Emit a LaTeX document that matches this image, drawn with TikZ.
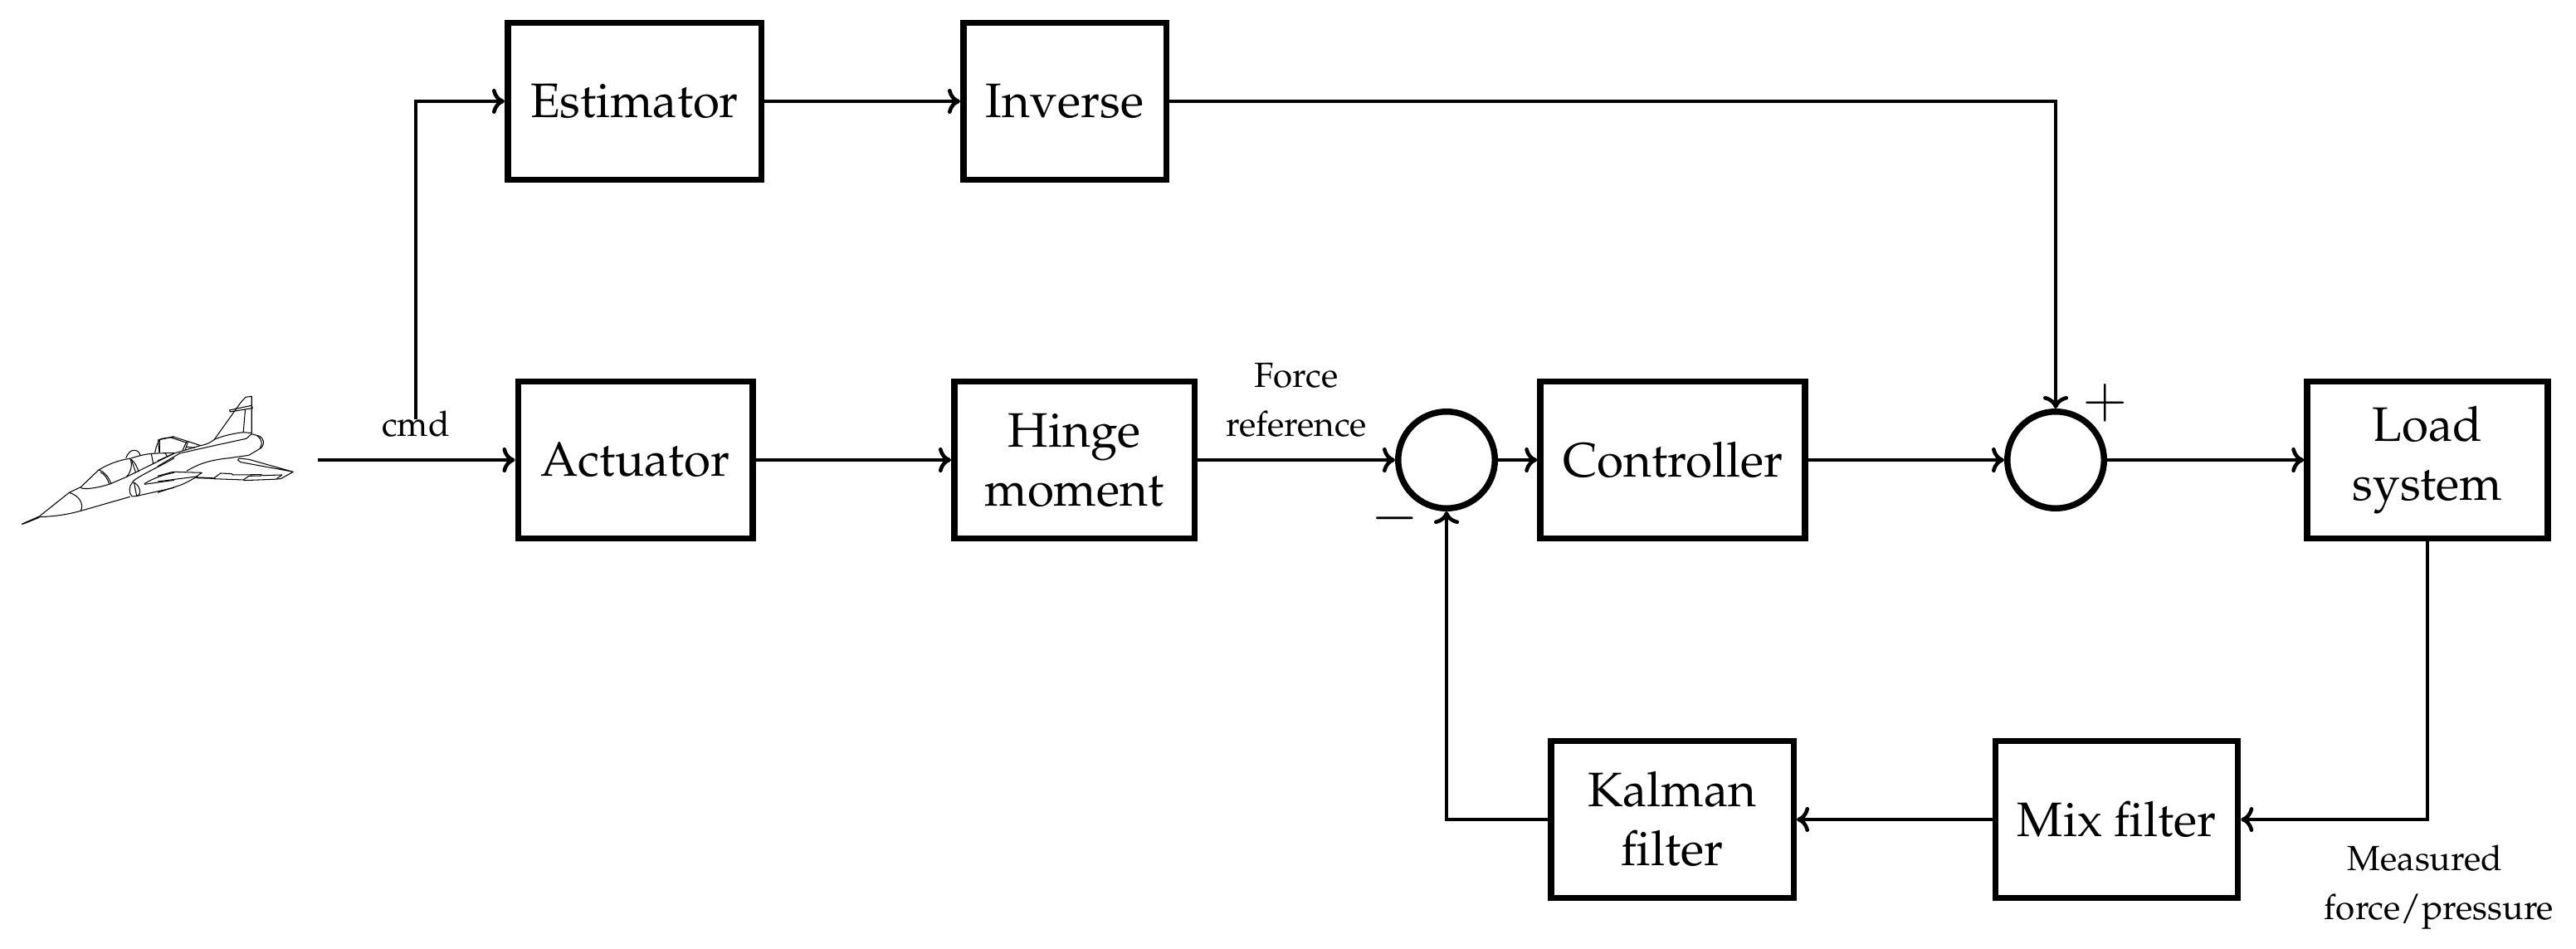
\documentclass[tikz,border=0pt]{standalone}
\usepackage[T1]{fontenc}
\usetikzlibrary{arrows.meta}
\renewcommand{\rmdefault}{ppl}
\begin{document}
\begin{tikzpicture}
		\tikzstyle{block}=[draw,
			line width=2.13pt,
			inner sep=0pt,
			minimum height=1.89cm,
			align=center,
			font=\fontsize{16.6}{20.2}\selectfont,
			];
		\tikzstyle{summer}=[draw,
			circle,
			line width=2.13pt,
			inner sep=0pt,
			minimum size=1.165cm,
			];
		\tikzstyle{sig}=[align=center,
			inner sep=0pt,
			font=\fontsize{12}{16.8}\selectfont,
			];
		\tikzstyle{signum}=[inner sep=0pt,
			font=\fontsize{22}{24}\selectfont,
			];
		\tikzstyle{conn}=[-{Computer Modern Rightarrow[length=1.5mm,width=3mm]},line width=1.3pt];
		\tikzstyle{outline}=[line width=.3pt,line join=round];

		\useasboundingbox (0,0) rectangle (31.04,11.42);

		\node [block] (est) at (7.645,10.20) [minimum width=3.055cm] {Estimator};
		\node [block] (inv) at (12.83,10.20) [minimum width=2.445cm] {Inverse};

		\node [block] (act) at (7.655,5.88) [minimum width=2.825cm] {Actuator};
		\node [block] (hinge) at (12.945,5.88) [minimum width=2.895cm] {Hinge\\moment};
		\node [summer] (sumf) at (17.43,5.88) {};
		\node [block] (ctrl) at (20.155,5.88) [minimum width=3.19cm] {Controller};
		\node [summer] (sumc) at (24.77,5.88) {};
		\node [block] (load) at (29.25,5.88) [minimum width=2.90cm] {Load\\system};

		\node [block] (mix) at (25.505,1.55) [minimum width=2.92cm] {Mix filter};
		\node [block] (kal) at (20.15,1.55) [minimum width=2.925cm] {Kalman\\filter};

		\coordinate (src) at (3.83,5.88);
		\coordinate (tap) at (5.01,6.37);

		\node [sig] (cmd) at (5.01,6.31) {cmd};
		\node [sig] (fref) at (15.62,6.60) {Force\\reference};
		\node [sig] (meas) at (29.39,0.73) {Measured\hspace*{.34cm}\\force/pressure};
		\node [signum] (plus) at (25.37,6.57) {$+$};
		\node [signum] (minus) at (16.81,5.18) {$-$};

		\draw [conn] (src) -- (act);
		\draw [conn] (tap) |- (est);
		\draw [conn] (est) -- (inv);
		\draw [conn] (inv) -| (sumc);
		\draw [conn] (act) -- (hinge);
		\draw [conn] (hinge) -- (sumf);
		\draw [conn] (sumf) -- (ctrl);
		\draw [conn] (ctrl) -- (sumc);
		\draw [conn] (sumc) -- (load);
		\draw [conn] (load) |- (mix);
		\draw [conn] (mix) -- (kal);
		\draw [conn] (kal) -| (sumf);

		\begin{scope}[shift={(.2,6.72)},x=.03333mm,y=-.03333mm,outline]
			\draw (18,484) -- (82,456) (22,484) -- (82,460);
			\draw (82,456) -- (190,370) -- (232,350) -- (297,288) .. controls (330,268) and (370,252) .. (410,247) -- (440,238) .. controls (470,230) and (490,227) .. (570,227);
			\draw (82,458) .. controls (150,456) and (200,445) .. (232,436) -- (410,385);
			\draw (190,370) .. controls (225,380) and (245,410) .. (232,436);
			\draw (232,352) .. controls (240,360) and (290,355) .. (340,338) -- (400,312) -- (570,228);
			\draw (297,288) .. controls (320,295) and (333,315) .. (342,338);
			\draw (303,296) .. controls (318,303) and (328,318) .. (335,338);
			\draw (410,247) .. controls (420,265) and (415,295) .. (398,312);
			\draw (415,250) .. controls (430,262) and (436,280) .. (442,295);
			\draw (415,250) -- (431,298);
			\draw (395,245) .. controls (405,225) and (412,217) .. (425,217) .. controls (438,217) and (444,225) .. (447,235);
			\draw (487,229) -- (494,265);
			\draw (500,227) -- (505,205) -- (515,180) -- (525,175) -- (570,168);
			\draw (512,182) -- (516,226);
			\draw (538,228) -- (546,242);
			\draw (420,330) .. controls (440,310) and (520,275) .. (570,245);
			\draw (420,332) .. controls (445,340) and (455,375) .. (436,382) -- (418,384) .. controls (405,375) and (405,345) .. (420,332);
			\draw (425,335) -- (434,381);
			\draw (436,382) -- (570,352);
			\draw (462,338) .. controls (490,320) and (530,305) .. (570,298);
			\draw (462,340) -- (570,325);
			\begin{scope}[shift={(510,0)}]
				\draw (0,370) -- (85,342) .. controls (110,332) and (130,318) .. (145,312);
				\draw (0,310) -- (55,295) -- (160,298) -- (140,312) -- (0,330);
				\draw [line width=.5pt] (140,316) -- (200,318);
				\draw (200,320) -- (228,300) -- (268,302) -- (272,306) -- (375,305) -- (380,308) -- (450,306);
				\draw (200,320) -- (310,324) -- (330,310) -- (375,309);
				\draw (310,326) -- (420,322) -- (445,320) -- (490,295) -- (330,250) -- (295,246) -- (290,252) -- (300,260) -- (475,292) -- (490,295);
				\draw (430,320) -- (450,306);
				\draw (0,275) -- (80,228) -- (205,200) -- (320,175) -- (340,158);
				\draw (0,255) -- (60,228) -- (155,200) .. controls (185,195) and (200,182) .. (205,178) .. controls (235,165) and (270,157) .. (310,152) -- (340,155);
				\draw (205,178) -- (275,80) -- (300,45) -- (318,25) -- (340,22) -- (340,155);
				\draw (310,150) -- (317,68);
				\draw (260,72) -- (340,55) -- (343,65) -- (262,78) -- cycle;
				\draw (340,158) -- (365,165) .. controls (385,172) and (388,195) .. (375,208) -- (330,235) -- (260,245) .. controls (190,252) and (150,265) .. (105,292);
				\draw (360,165) .. controls (378,178) and (380,195) .. (370,210);
				\draw (0,180) -- (10,178) -- (40,172) -- (55,168) -- (110,185) -- (155,200);
				\draw (45,170) -- (105,190);
				\draw (110,185) -- (100,215);
				\draw (105,185) -- (90,218);
				\draw (105,205) -- (135,208);
				\draw (7,180) -- (7,225);
			\end{scope}
		\end{scope}
	\end{tikzpicture}
\end{document}
